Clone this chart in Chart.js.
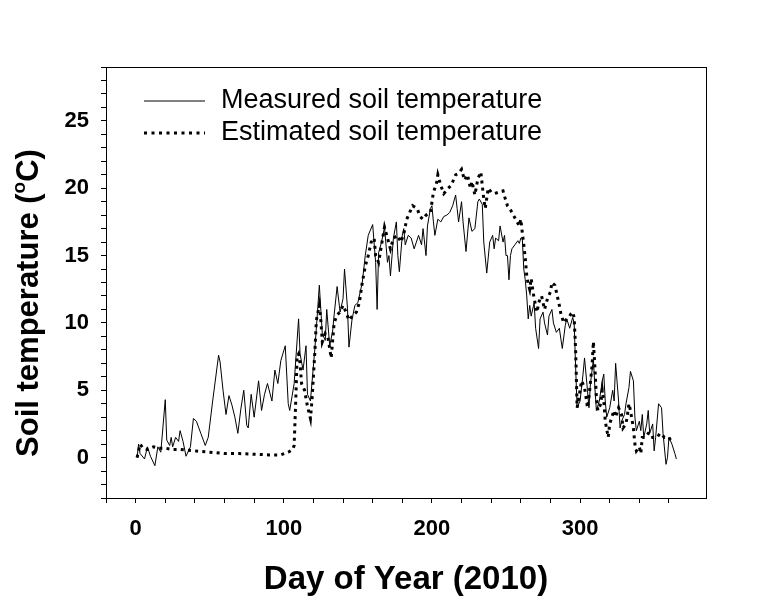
<!DOCTYPE html>
<html>
<head>
<meta charset="utf-8">
<script src="https://cdn.jsdelivr.net/npm/chart.js@4.4.1/dist/chart.umd.min.js"></script>
<style>
  body { margin: 0; background: #fff; }
  #wrap { width: 768px; height: 614px; }
</style>
</head>
<body>
<div id="wrap"><canvas id="soilTemp"></canvas></div>
<script>
// measured soil temperature (day of year, deg C)
var measuredDays = [1, 2, 3, 6, 8, 10, 13, 15, 17, 20, 21, 23, 24, 25, 27, 29, 30, 32, 34, 37,
  39, 41, 44, 47, 49, 52, 56, 57, 59, 61, 63, 65, 67, 69, 71, 73, 75, 76, 78, 80,
  83, 85, 87, 89, 92, 94, 96, 98, 101, 103, 104, 107, 110, 111, 113, 115, 116, 118, 121, 123,
  124, 126, 128, 129, 131, 133, 134, 136, 138, 140, 141, 143, 144, 146, 148, 150, 153, 155, 157, 160,
  162, 163, 164, 166, 168, 170, 171, 172, 174, 176, 177, 178, 180, 181, 182, 184, 186, 188, 191, 193,
  194, 196, 197, 199, 200, 201, 202, 204, 206, 208, 210, 212, 214, 216, 217, 218, 220, 221, 223, 225,
  227, 229, 231, 232, 234, 235, 237, 239, 241, 242, 243, 245, 246, 248, 249, 250, 251, 252, 253, 254,
  256, 258, 259, 260, 261, 262, 263, 264, 265, 266, 267, 269, 270, 272, 273, 275, 276, 278, 279, 281,
  282, 284, 286, 288, 290, 291, 293, 295, 296, 297, 298, 300, 302, 303, 305, 306, 307, 309, 310, 311,
  313, 315, 316, 317, 318, 320, 322, 323, 324, 326, 327, 328, 330, 331, 333, 334, 336, 337, 338, 340,
  341, 342, 343, 345, 346, 347, 349, 350, 351, 353, 355, 356, 358, 359, 360, 362, 364, 365];
var measuredTemp = [0.0, 1.0, 0.3, -0.1, 0.8, 0.1, -0.6, 0.8, 0.4, 4.3, 1.3, 0.9, 1.5, 0.8, 1.5, 1.2, 2.0, 1.2, 0.1, 0.8,
  2.9, 2.7, 1.8, 0.9, 1.5, 4.2, 7.6, 7.1, 5.0, 3.2, 4.6, 3.9, 3.0, 1.8, 3.6, 5.0, 2.4, 2.2, 4.7, 3.0,
  5.7, 3.5, 4.7, 5.5, 4.2, 6.5, 5.5, 7.2, 8.3, 4.0, 3.5, 5.5, 10.3, 7.7, 6.5, 8.3, 4.7, 4.2, 8.1, 11.2,
  12.8, 9.2, 8.7, 11.0, 8.3, 9.4, 10.6, 12.7, 10.8, 11.8, 14.0, 11.1, 8.2, 10.2, 11.3, 11.5, 13.0, 15.0, 16.5, 17.3,
  14.5, 11.0, 15.2, 16.0, 17.1, 14.5, 15.0, 13.5, 16.3, 17.5, 15.0, 13.8, 16.5, 17.0, 15.8, 16.5, 16.3, 15.5, 16.5, 15.8,
  17.0, 15.0, 17.2, 18.5, 18.7, 17.5, 16.5, 17.7, 17.5, 17.9, 18.0, 18.2, 18.7, 19.5, 18.5, 17.5, 19.0, 17.5, 15.3, 17.8,
  16.8, 17.0, 19.0, 19.2, 18.8, 16.0, 13.7, 16.0, 16.5, 15.5, 16.3, 16.1, 17.2, 16.0, 16.5, 15.0, 15.0, 13.2, 15.0, 15.5,
  15.8, 16.1, 15.9, 16.3, 16.3, 14.0, 13.2, 12.0, 10.3, 11.3, 10.5, 11.5, 9.6, 8.1, 10.3, 10.8, 10.0, 9.1, 10.5, 11.0,
  10.0, 9.3, 9.6, 8.1, 9.8, 10.3, 9.6, 10.4, 10.0, 6.7, 3.7, 4.2, 6.2, 7.4, 5.0, 3.7, 5.5, 7.3, 5.2, 3.5,
  4.2, 5.7, 6.2, 4.2, 3.0, 3.7, 5.0, 4.2, 7.0, 4.2, 2.2, 2.7, 3.2, 4.0, 5.2, 6.4, 5.7, 3.0, 2.0, 2.7,
  2.0, 3.2, 1.5, 2.5, 3.5, 1.8, 2.5, 0.5, 1.5, 4.0, 3.7, 1.8, -0.5, 0.0, 1.5, 1.0, 0.3, -0.1];

// estimated soil temperature (day of year, deg C)
var estimatedDays = [1, 3, 5, 8, 12, 16, 20, 25, 30, 40, 50, 60, 70, 80, 90, 98, 103, 106, 107, 108,
  109, 110, 111, 112, 114, 116, 118, 119, 120, 121, 122, 124, 125, 126, 128, 130, 132, 134, 136, 138,
  140, 142, 144, 147, 149, 151, 153, 155, 157, 159, 161, 162, 164, 166, 168, 170, 172, 174, 177, 179,
  181, 183, 185, 187, 190, 192, 194, 196, 199, 201, 203, 204, 206, 208, 211, 213, 216, 218, 220, 222,
  224, 226, 227, 229, 231, 233, 234, 235, 236, 238, 240, 242, 245, 248, 249, 251, 253, 255, 257, 259,
  260, 261, 262, 263, 264, 265, 266, 267, 268, 269, 271, 272, 274, 275, 276, 278, 280, 281, 283, 284,
  285, 286, 287, 289, 291, 293, 294, 295, 296, 297, 298, 300, 301, 303, 304, 305, 306, 308, 309, 310,
  311, 312, 314, 315, 316, 317, 319, 320, 322, 323, 324, 326, 328, 329, 331, 332, 333, 334, 336, 337,
  338, 340, 341, 342, 344, 346, 348, 349, 352, 354, 357, 360, 361];
var estimatedTemp = [0.0, 1.0, 0.7, 0.6, 0.8, 0.7, 0.7, 0.6, 0.6, 0.5, 0.4, 0.3, 0.3, 0.25, 0.2, 0.2, 0.4, 0.6, 0.9, 4.0,
  7.5, 7.7, 7.0, 5.5, 5.0, 3.8, 2.9, 4.2, 6.0, 7.9, 10.2, 11.3, 10.2, 8.6, 9.2, 8.8, 7.4, 10.0, 10.6, 10.8,
  11.3, 10.8, 10.2, 10.6, 10.8, 11.5, 13.0, 14.2, 15.0, 16.0, 16.3, 15.0, 14.5, 15.8, 17.1, 16.3, 15.5, 16.3, 16.5, 16.0,
  16.6, 17.7, 18.2, 18.7, 18.5, 17.9, 17.7, 18.0, 18.2, 19.7, 20.3, 21.0, 20.2, 19.6, 20.0, 20.2, 21.0, 21.1, 21.4, 20.6,
  21.0, 20.0, 20.5, 19.5, 20.7, 21.2, 20.2, 19.2, 18.5, 20.0, 19.7, 19.6, 19.7, 19.8, 19.4, 18.7, 18.4, 18.0, 17.6, 17.2,
  17.7, 16.7, 15.8, 14.8, 13.5, 12.9, 12.5, 13.3, 12.5, 11.8, 10.8, 11.5, 12.0, 11.5, 11.0, 11.8, 12.3, 13.0, 12.8, 12.3,
  11.8, 11.3, 10.7, 10.0, 10.3, 10.5, 10.7, 10.8, 10.4, 8.0, 3.7, 5.0, 5.7, 5.2, 4.5, 3.7, 4.5, 6.7, 8.6, 6.7,
  4.5, 3.5, 4.0, 5.0, 4.2, 2.7, 1.5, 2.5, 3.2, 3.5, 3.0, 3.7, 3.2, 2.2, 2.5, 3.2, 4.0, 3.5, 2.2, 1.0,
  0.5, 0.8, 0.3, 1.5, 1.5, 1.8, 1.8, 1.5, 1.5, 1.8, 1.5, 1.5, 1.3];

var xTicks = [0, 100, 200, 300];
var yTicks = [0, 5, 10, 15, 20, 25];
var seriesNames = ['Measured soil temperature', 'Estimated soil temperature'];

var FONT = '"Liberation Sans", Arial, sans-serif';

function toPoints(xs, ys) {
  return xs.map(function (d, i) { return { x: d, y: ys[i] }; });
}

// frame around the plot, legend in the top-left corner, y title with superscript
var decorations = {
  id: 'decorations',
  afterDraw: function (chart) {
    var ctx = chart.ctx;
    var a = chart.chartArea;
    ctx.save();
    ctx.strokeStyle = '#000';
    ctx.lineWidth = 1;
    ctx.strokeRect(Math.round(a.left) + 0.5, Math.round(a.top) + 0.5,
      Math.round(a.right - a.left), Math.round(a.bottom - a.top));

    // legend
    var lx = a.left + 38, tx = a.left + 115;
    var ys = [a.top + 34, a.top + 66];
    ctx.beginPath();
    ctx.moveTo(lx, ys[0]); ctx.lineTo(lx + 61, ys[0]);
    ctx.lineWidth = 1; ctx.stroke();
    ctx.beginPath();
    ctx.setLineDash([3, 4.5]);
    ctx.moveTo(lx, ys[1]); ctx.lineTo(lx + 61, ys[1]);
    ctx.lineWidth = 3; ctx.stroke();
    ctx.setLineDash([]);
    ctx.fillStyle = '#000';
    ctx.font = '27px ' + FONT;
    ctx.textBaseline = 'middle';
    ctx.textAlign = 'left';
    ctx.fillText(seriesNames[0], tx, ys[0]);
    ctx.fillText(seriesNames[1], tx, ys[1]);

    // y axis title: Soil temperature (oC) with superscript o
    var big = 'bold 31px ' + FONT, small = 'bold 19px ' + FONT;
    var p1 = 'Soil temperature (', p2 = 'o', p3 = 'C)';
    ctx.font = big; var w1 = ctx.measureText(p1).width, w3 = ctx.measureText(p3).width;
    ctx.font = small; var w2 = ctx.measureText(p2).width;
    var total = w1 + w2 + w3;
    ctx.translate(a.left - 79, a.top + 236);
    ctx.rotate(-Math.PI / 2);
    var sx = -total / 2;
    ctx.textBaseline = 'alphabetic';
    ctx.font = big; ctx.fillText(p1, sx, 11);
    ctx.font = small; ctx.fillText(p2, sx + w1, -2);
    ctx.font = big; ctx.fillText(p3, sx + w1 + w2, 11);
    ctx.restore();
  }
};

var ctx = document.getElementById('soilTemp').getContext('2d');
var soilChart = new Chart(ctx, {
  type: 'line',
  data: {
    datasets: [
      {
        label: seriesNames[0],
        data: toPoints(measuredDays, measuredTemp),
        borderColor: '#000',
        borderWidth: 1,
        pointRadius: 0,
        tension: 0
      },
      {
        label: seriesNames[1],
        data: toPoints(estimatedDays, estimatedTemp),
        borderColor: '#000',
        borderWidth: 3,
        borderDash: [3, 4.2],
        pointRadius: 0,
        tension: 0
      }
    ]
  },
  options: {
    responsive: true,
    maintainAspectRatio: false,
    animation: false,
    layout: { padding: { left: 0, top: 67, right: 62, bottom: 0 } },
    plugins: { legend: { display: false }, tooltip: { enabled: false } },
    scales: {
      x: {
        type: 'linear',
        min: -20,
        max: 385,
        afterBuildTicks: function (s) { s.ticks = s.ticks.filter(function (t) { return t.value % 20 === 0; }); },
        afterFit: function (s) { s.height = 116; },
        grid: { drawOnChartArea: false, color: '#000', tickLength: 5 },
        border: { color: '#000' },
        ticks: {
          stepSize: 20,
          autoSkip: false,
          maxRotation: 0,
          padding: 13,
          color: '#000',
          font: { family: FONT, size: 22, weight: 'bold' },
          callback: function (v) { return xTicks.indexOf(v) >= 0 ? String(v) : ''; }
        },
        title: {
          display: true,
          text: 'Day of Year (2010)',
          color: '#000',
          font: { family: FONT, size: 33, weight: 'bold' },
          padding: { top: 0, bottom: 14 }
        }
      },
      y: {
        min: -3,
        max: 29,
        afterFit: function (s) { s.width = 106; },
        grid: { drawOnChartArea: false, color: '#000', tickLength: 5 },
        border: { color: '#000' },
        ticks: {
          stepSize: 1,
          autoSkip: false,
          padding: 12,
          color: '#000',
          font: { family: FONT, size: 22, weight: 'bold' },
          callback: function (v) { return yTicks.indexOf(v) >= 0 ? String(v) : ''; }
        }
      }
    }
  },
  plugins: [decorations]
});
</script>
</body>
</html>
